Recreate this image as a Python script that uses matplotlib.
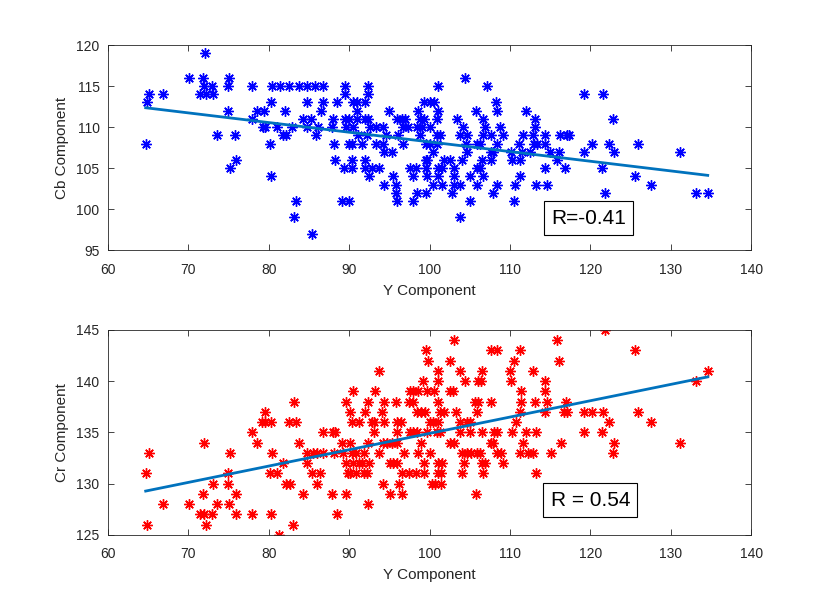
import matplotlib
matplotlib.use("Agg")
import matplotlib.pyplot as plt
import numpy as np

plt.rcParams['font.family'] = ['Liberation Sans', 'DejaVu Sans']

# Cb vs Y: each Cb level with the Y values read at that level
cb_levels = [119, 116, 115, 114, 113, 112, 111, 110, 109, 108, 107, 106,
             105, 104, 103, 102, 101, 99, 97]
cb_y = [
    [72.1],
    [70.1, 71.8, 75.1, 104.4],
    [71.9, 73.0, 74.9, 77.9, 80.4, 81.4, 82.5, 83.8, 84.7, 85.7, 86.7, 89.5, 92.4, 101.1, 107.1],
    [65.1, 66.8, 71.5, 72.2, 73.1, 89.5, 92.4, 119.2, 121.6],
    [64.9, 80.3, 84.7, 86.7, 88.5, 90.5, 91.0, 92.0, 99.3, 100.1, 100.5, 108.3],
    [74.9, 78.5, 79.4, 82.0, 86.5, 91.0, 95.0, 98.6, 101.0, 105.8, 108.4, 112.0],
    [77.9, 84.3, 85.3, 88.0, 89.5, 90.0, 91.0, 92.0, 92.3, 95.9, 96.6, 97.0, 98.8, 99.3,
     100.9, 103.4, 106.6, 113.1, 122.8],
    [79.3, 79.5, 81.0, 82.9, 84.7, 86.1, 87.9, 89.6, 90.5, 92.6, 93.4, 94.2, 96.7, 97.3,
     98.4, 99.1, 100.0, 104.2, 106.9, 108.8, 113.1],
    [73.6, 75.8, 81.8, 82.2, 85.9, 91.1, 92.2, 94.6, 96.1, 98.8, 100.9, 101.3, 103.8, 104.7,
     106.7, 107.7, 109.2, 111.6, 112.9, 114.4, 116.2, 117.1, 117.4],
    [64.7, 80.1, 88.1, 90.0, 90.3, 91.6, 93.4, 94.2, 96.7, 99.5, 100.1, 100.9, 104.5, 105.9,
     106.3, 108.4, 111.1, 113.0, 113.4, 114.4, 120.2, 122.3, 125.9],
    [94.4, 95.3, 100.4, 104.7, 107.6, 107.9, 110.1, 111.5, 112.5, 115.0, 116.1, 119.2, 123.0, 131.1],
    [75.9, 88.3, 90.3, 92.0, 99.5, 99.7, 101.8, 102.6, 104.0, 106.5, 107.6, 110.3, 111.3, 115.9],
    [75.2, 89.4, 90.3, 92.0, 92.9, 93.7, 97.6, 98.3, 99.6, 101.1, 101.6, 103.0, 105.9, 106.3,
     114.4, 116.8, 121.5],
    [80.3, 92.5, 95.5, 98.0, 99.7, 101.0, 103.1, 105.0, 106.7, 111.3, 125.5],
    [94.3, 95.8, 100.4, 101.5, 103.1, 103.8, 105.9, 108.4, 110.6, 113.3, 114.6, 127.6],
    [95.8, 98.4, 99.6, 102.8, 107.9, 121.8, 133.1, 134.6],
    [83.4, 89.1, 90.0, 95.9, 97.9, 105.0, 110.5],
    [83.2, 103.8],
    [85.4],
]

# Cr vs Y
cr_levels = [145, 144, 143, 142, 141, 140, 139, 138, 137, 136, 135, 134, 133,
             132, 131, 130, 129, 128, 127, 126, 125]
cr_y = [
    [121.8],
    [103.0, 115.9],
    [99.6, 107.6, 108.4, 111.2, 125.5],
    [99.8, 102.6, 110.5, 116.1],
    [93.7, 101.1, 103.8, 106.5, 110.0, 112.9, 134.6],
    [99.2, 101.1, 104.4, 106.0, 106.4, 110.1, 114.4, 133.1],
    [90.5, 93.2, 97.6, 98.0, 98.6, 99.7, 100.5, 102.6, 102.9, 111.4, 114.4],
    [83.2, 89.6, 92.4, 94.4, 95.8, 97.4, 97.9, 101.1, 105.6, 106.0, 107.6, 111.4, 113.1,
     114.6, 117.0],
    [79.6, 90.1, 92.0, 94.1, 98.4, 98.9, 99.4, 101.3, 101.8, 103.3, 105.9, 111.2, 114.4,
     116.7, 117.1, 119.2, 120.2, 121.6, 125.9],
    [79.2, 79.5, 80.3, 82.5, 83.4, 90.3, 91.2, 92.8, 93.1, 94.4, 95.9, 96.4, 100.0, 100.4,
     101.1, 103.8, 104.7, 105.0, 110.7, 122.3, 127.6],
    [77.9, 86.7, 88.0, 88.3, 93.1, 95.9, 97.6, 98.0, 98.4, 99.7, 100.9, 101.3, 103.8, 105.0,
     106.5, 108.0, 108.4, 110.3, 112.0, 113.3, 119.2, 121.5],
    [71.9, 78.6, 83.8, 89.1, 90.1, 92.4, 94.2, 94.7, 95.3, 95.9, 98.9, 102.6, 103.0, 107.6,
     107.9, 111.6, 116.3, 123.0, 131.1],
    [65.1, 75.2, 80.4, 84.7, 85.5, 86.0, 86.7, 88.1, 89.3, 90.3, 90.8, 91.9, 93.7, 96.8,
     98.6, 100.1, 104.0, 104.7, 105.1, 105.9, 106.3, 108.4, 108.9, 111.2, 112.3, 112.9,
     115.1, 122.8],
    [81.8, 84.8, 89.6, 90.5, 91.2, 91.6, 92.5, 95.1, 95.5, 95.9, 99.3, 101.1, 101.5, 104.3,
     106.5, 106.9, 109.1],
    [64.7, 74.9, 80.1, 81.0, 85.4, 86.4, 89.8, 90.1, 90.9, 91.9, 92.2, 96.6, 97.5, 98.3,
     99.3, 101.0, 101.4, 104.1, 106.7, 113.2],
    [73.1, 74.9, 82.2, 82.6, 86.0, 94.2, 96.2, 100.3, 100.7, 101.4],
    [71.8, 75.9, 84.3, 87.9, 89.6, 95.1, 96.6, 105.8],
    [66.8, 70.1, 73.6, 75.1, 92.4],
    [71.5, 72.0, 73.0, 75.9, 77.9, 80.3, 88.5],
    [64.9, 72.2, 83.0],
    [81.3],
]

r_top = "R=-0.41"
r_bot = "R = 0.54"

x_cb = np.concatenate([np.array(v) for v in cb_y])
y_cb = np.concatenate([[lv] * len(v) for lv, v in zip(cb_levels, cb_y)])
x_cr = np.concatenate([np.array(v) for v in cr_y])
y_cr = np.concatenate([[lv] * len(v) for lv, v in zip(cr_levels, cr_y)])

fig = plt.figure(figsize=(8.3, 6.01), dpi=100)
ax1 = fig.add_axes([0.13, 0.5838, 0.775, 0.3412])
ax2 = fig.add_axes([0.13, 0.11, 0.775, 0.3412])

line_col = (0, 0.447, 0.741)
edge = (0.15, 0.15, 0.15)
star = (8, 2, 0)


def panel(ax, x, y, col, ylab, yticks, ylim, rtext, rpos):
    ax.plot(x, y, linestyle='none', marker=star, markersize=7.5,
            markeredgewidth=1.0, color=col)
    p = np.polyfit(x, y, 1)
    xs = np.array([x.min(), x.max()])
    ax.plot(xs, np.polyval(p, xs), color=line_col, linewidth=2)
    ax.set_xlim(60, 140)
    ax.set_ylim(*ylim)
    ax.set_xticks(range(60, 141, 10))
    ax.set_yticks(yticks)
    ax.set_xlabel("Y Component", fontsize=11, color=edge, labelpad=5)
    ax.set_ylabel(ylab, fontsize=11, color=edge, labelpad=5)
    ax.tick_params(direction='in', top=True, right=True, length=4,
                   width=0.6, colors=edge, labelsize=10)
    ax.tick_params(axis='x', pad=9)
    ax.tick_params(axis='y', pad=6)
    for s in ax.spines.values():
        s.set_color(edge)
        s.set_linewidth(0.6)
    ax.text(rpos[0], rpos[1], rtext, fontsize=15, ha='center', va='center',
            color='black',
            bbox=dict(boxstyle='square,pad=0.35', facecolor='white',
                      edgecolor='black', linewidth=0.8))


panel(ax1, x_cb, y_cb, 'blue', "Cb Component", range(95, 121, 5), (95, 120),
      r_top, (119.8, 98.9))
panel(ax2, x_cr, y_cr, 'red', "Cr Component", range(125, 146, 5), (125, 145),
      r_bot, (120.0, 128.4))

fig.savefig("out.png", dpi=100)
